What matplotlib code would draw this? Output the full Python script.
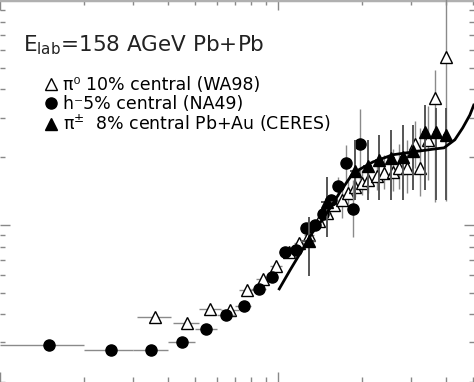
import matplotlib
matplotlib.use("Agg")
import matplotlib.pyplot as plt
from matplotlib.lines import Line2D
from matplotlib.ticker import LogLocator, NullFormatter

# NA49 h- 5% central
na49_pt = [0.15, 0.25, 0.35, 0.45, 0.55, 0.65, 0.75, 0.85, 0.95, 1.06,
           1.16, 1.26, 1.36, 1.45, 1.55, 1.64, 1.75, 1.86, 1.97]
na49_r = [0.293, 0.278, 0.278, 0.302, 0.345, 0.398, 0.436, 0.519, 0.587, 0.759,
          0.774, 0.97, 1.0, 1.12, 1.29, 1.49, 1.89, 1.18, 2.29]
na49_elo = [0.005, 0.005, 0.005, 0.005, 0.008, 0.01, 0.01, 0.015, 0.02, 0.03,
            0.03, 0.04, 0.04, 0.05, 0.08, 0.15, 0.34, 0.30, 0.71]
na49_ehi = [0.005, 0.005, 0.005, 0.005, 0.008, 0.01, 0.01, 0.015, 0.02, 0.03,
            0.03, 0.04, 0.04, 0.05, 0.08, 0.15, 0.38, 0.40, 1.00]
na49_xerr = 0.05

# WA98 pi0 10% central
wa98_pt = [0.36, 0.47, 0.57, 0.67, 0.77, 0.88, 0.98, 1.09, 1.19, 1.29,
           1.40, 1.50, 1.59, 1.69, 1.78, 1.89, 2.00, 2.10, 2.26, 2.40,
           2.58, 2.71, 2.90, 3.10, 3.23, 3.45, 3.65, 4.00]
wa98_r = [0.39, 0.367, 0.423, 0.419, 0.514, 0.575, 0.657, 0.759, 0.832, 0.903,
          1.042, 1.13, 1.227, 1.29, 1.39, 1.475, 1.54, 1.585, 1.65, 1.70,
          1.72, 1.79, 1.79, 2.29, 1.79, 2.39, 3.67, 5.58]
wa98_elo = [0.01, 0.01, 0.01, 0.01, 0.015, 0.02, 0.02, 0.03, 0.03, 0.04,
            0.05, 0.06, 0.08, 0.22, 0.15, 0.15, 0.18, 0.20, 0.22, 0.25,
            0.30, 0.35, 0.40, 0.50, 0.45, 0.80, 2.40, 4.30]
wa98_ehi = [0.01, 0.01, 0.01, 0.01, 0.015, 0.02, 0.02, 0.03, 0.03, 0.04,
            0.05, 0.06, 0.08, 0.25, 0.18, 0.20, 0.22, 0.25, 0.30, 0.35,
            0.45, 0.50, 0.60, 0.60, 0.90, 1.00, 1.20, 7.00]
wa98_xerr = 0.05

# CERES pi+- 8% central Pb+Au
ceres_pt = [1.29, 1.50, 1.89, 2.10, 2.30, 2.54, 2.81, 3.05, 3.36, 3.68, 4.00]
ceres_r = [0.849, 1.27, 1.74, 1.83, 1.94, 1.99, 2.00, 2.13, 2.59, 2.59, 2.51]
ceres_elo = [0.256, 0.385, 0.45, 0.54, 0.65, 0.70, 0.71, 0.70, 1.16, 1.30, 1.22]
ceres_ehi = [0.236, 0.36, 0.65, 0.56, 0.57, 0.65, 0.78, 0.65, 0.82, 0.72, 0.80]
ceres_xerr = 0.08

# model curve
curve_pt = [1.008, 1.104, 1.219, 1.324, 1.438, 1.561, 1.668, 1.857, 2.19, 2.58,
            3.05, 3.59, 3.94, 4.31, 4.60, 4.88, 5.04]
curve_r = [0.519, 0.631, 0.774, 0.921, 1.052, 1.227, 1.40, 1.70, 1.905, 2.05,
           2.11, 2.17, 2.20, 2.39, 2.70, 3.08, 3.41]

fig = plt.figure(figsize=(4.74, 3.82), dpi=100)
ax = fig.add_axes([0, 0, 1, 1])
ax.set_xscale("log")
ax.set_yscale("log")
ax.set_xlim(0.1, 5.05)
ax.set_ylim(0.2, 10)

bar_grey = "#8a8a8a"
ax.errorbar(wa98_pt, wa98_r, yerr=[wa98_elo, wa98_ehi], xerr=wa98_xerr,
            fmt="^", ms=9, mfc="white", mec="black", mew=1.0,
            ecolor=bar_grey, elinewidth=1.0, capsize=0, zorder=3)
ax.errorbar(na49_pt, na49_r, yerr=[na49_elo, na49_ehi], xerr=na49_xerr,
            fmt="o", ms=8, mfc="black", mec="black",
            ecolor=bar_grey, elinewidth=1.0, capsize=0, zorder=4)
ax.errorbar(ceres_pt, ceres_r, yerr=[ceres_elo, ceres_ehi], xerr=ceres_xerr,
            fmt="^", ms=8, mfc="black", mec="black",
            ecolor="#555555", elinewidth=1.4, capsize=0, zorder=5)
ax.plot(curve_pt, curve_r, color="black", lw=2, zorder=6)

# frame and ticks
for side in ["left", "right", "bottom"]:
    ax.spines[side].set_visible(False)
ax.spines["top"].set_color("#b0b0b0")
ax.spines["top"].set_linewidth(2.5)
ax.xaxis.set_major_locator(LogLocator(base=10, numticks=10))
ax.xaxis.set_minor_locator(LogLocator(base=10, subs=range(2, 10), numticks=10))
ax.yaxis.set_major_locator(LogLocator(base=10, numticks=10))
ax.yaxis.set_minor_locator(LogLocator(base=10, subs=range(2, 10), numticks=10))
ax.xaxis.set_minor_formatter(NullFormatter())
ax.yaxis.set_minor_formatter(NullFormatter())
ax.tick_params(which="both", direction="in", top=True, right=True,
               labelbottom=False, labelleft=False, color="#888888", width=1)
ax.tick_params(which="major", length=7)
ax.tick_params(which="minor", length=3.5)

ax.text(0.048, 0.865, r"E$_{\rm lab}$=158 AGeV Pb+Pb", transform=ax.transAxes,
        fontsize=15.5, color="#222222")

handles = [
    Line2D([], [], ls="none", marker="^", ms=9, mfc="white", mec="black"),
    Line2D([], [], ls="none", marker="o", ms=8, mfc="black", mec="black"),
    Line2D([], [], ls="none", marker="^", ms=8, mfc="black", mec="black"),
]
labels = ["π⁰ 10% central (WA98)",
          "h⁻5% central (NA49)",
          "π$^{\\pm}$  8% central Pb+Au (CERES)"]
ax.legend(handles, labels, loc="upper left", bbox_to_anchor=(0.093, 0.80),
          frameon=False, fontsize=12.5, handlelength=0.8, handletextpad=0.3,
          labelspacing=0.02, borderpad=0, borderaxespad=0)

fig.savefig("out.png", dpi=100)
